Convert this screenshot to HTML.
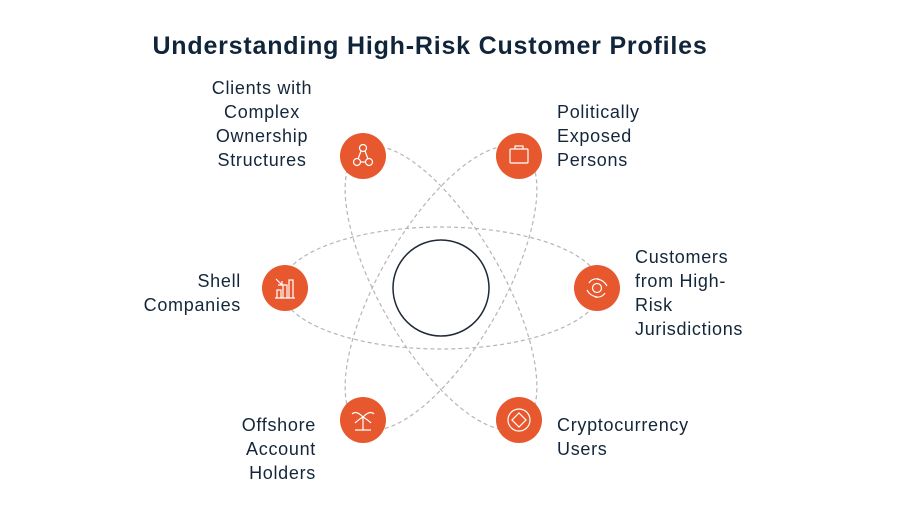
<!DOCTYPE html>
<html><head><style>
html,body{margin:0;padding:0;background:#fff;}
body{width:918px;height:516px;position:relative;overflow:hidden;font-family:"Liberation Sans",sans-serif;color:#14263a;}
.t{position:absolute;font-size:18px;line-height:24px;letter-spacing:0.7px;}
h1{position:absolute;left:0;width:860px;top:32px;margin:0;text-align:center;font-size:25px;font-weight:bold;color:#10243a;letter-spacing:0.8px;}
</style></head><body>
<h1>Understanding High-Risk Customer Profiles</h1>
<svg width="918" height="516" style="position:absolute;left:0;top:0">
<g fill="none" stroke="#b5b5b5" stroke-width="1.2" stroke-dasharray="4,3">
<ellipse cx="441" cy="288" rx="160" ry="61"/>
<ellipse cx="441" cy="288" rx="160" ry="61" transform="rotate(60 441 288)"/>
<ellipse cx="441" cy="288" rx="160" ry="61" transform="rotate(-60 441 288)"/>
</g>
<circle cx="441" cy="288" r="48" fill="#fff" stroke="#1e2a36" stroke-width="1.5"/>
<g fill="#e8582f">
<circle cx="363" cy="156" r="23"/><circle cx="519" cy="156" r="23"/>
<circle cx="285" cy="288" r="23"/><circle cx="597" cy="288" r="23"/>
<circle cx="363" cy="420" r="23"/><circle cx="519" cy="420" r="23"/>
</g>
<g fill="none" stroke="#fff" stroke-width="1.2">
<circle cx="363" cy="148" r="3.5"/><circle cx="357" cy="162" r="3.5"/><circle cx="369" cy="162" r="3.5"/>
<path d="M361 151 L358 159 M365 151 L368 159 M360.5 162 H365.5"/>
<rect x="510" y="149" width="18" height="14" rx="1"/><path d="M515 149 V146 H523 V149"/>
<path d="M275 298 H295 M277 298 V290 H281 V298 M283 298 V285 H287 V298 M289 298 V280 H293 V298 M276 279 L282 285 M282 281 V285 H278"/>
<circle cx="597" cy="288" r="4.5"/><path d="M589 283 Q592 278 599 279 M605 293 Q602 298 595 297 M587 290 Q590 296 597 297 M607 286 Q604 280 597 279"/>
<path d="M355 430 H371 M363 430 V417 M363 417 Q356 410 352 414 M363 417 Q370 410 374 414 M363 417 Q358 420 355 423 M363 417 Q368 420 371 423"/>
<circle cx="519" cy="420" r="11"/><path d="M519 413 L526 420 L519 427 L512 420 Z"/>
</g>
</svg>
<div class="t" style="left:190px;width:144px;top:76px;text-align:center">Clients with<br>Complex<br>Ownership<br>Structures</div>
<div class="t" style="left:557px;top:100px">Politically<br>Exposed<br>Persons</div>
<div class="t" style="left:90px;width:151px;top:269px;text-align:right">Shell<br>Companies</div>
<div class="t" style="left:635px;top:245px">Customers<br>from High-<br>Risk<br>Jurisdictions</div>
<div class="t" style="left:200px;width:116px;top:413px;text-align:right">Offshore<br>Account<br>Holders</div>
<div class="t" style="left:557px;top:413px">Cryptocurrency<br>Users</div>
</body></html>
